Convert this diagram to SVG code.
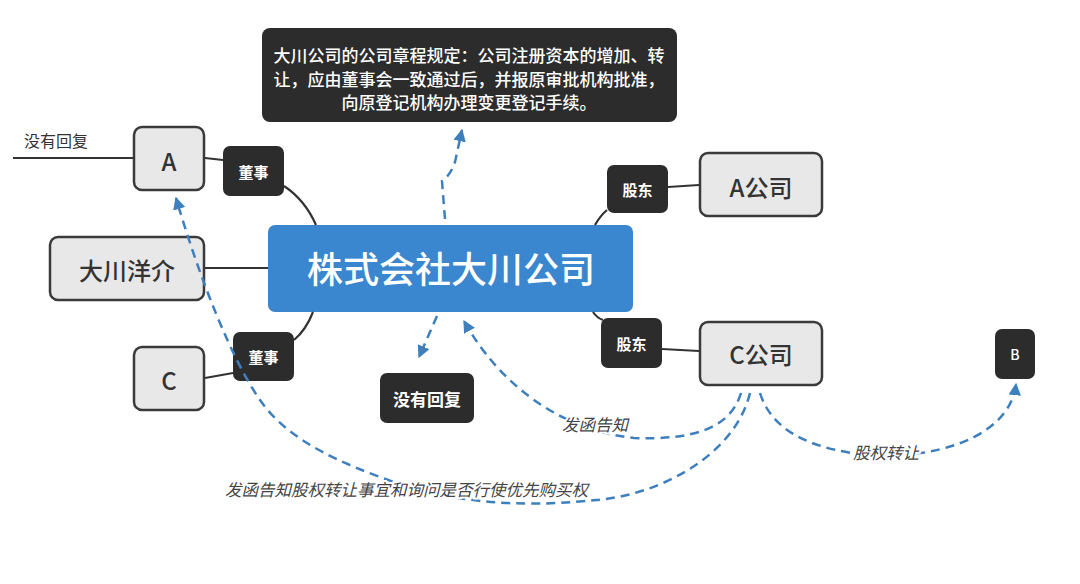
<svg xmlns="http://www.w3.org/2000/svg" width="1080" height="584" viewBox="0 0 1080 584">
<defs>
<style>
text{font-family:"Noto Sans CJK SC","Noto Sans",sans-serif;text-anchor:middle;dominant-baseline:central}
.light{fill:#e8e8e8;stroke:#3a3a3a;stroke-width:2.5}
.dark{fill:#2c2c2c}
.lt{fill:#333;font-size:24px;font-weight:500}
.dt{fill:#fff;font-size:15px;font-weight:600}
.solid{fill:none;stroke:#333;stroke-width:2.2}
.dash{fill:none;stroke:#3e7fbe;stroke-width:2.5;stroke-dasharray:9 6}
.lbl{fill:#444;font-size:16.5px;font-style:italic;text-anchor:start}
</style>
<marker id="ah" viewBox="0 0 10 10" refX="9" refY="5" markerWidth="5" markerHeight="5" orient="auto" markerUnits="strokeWidth">
<path d="M0,0 L10,5 L0,10 z" fill="#3e7fbe"/>
</marker>
</defs>
<rect width="1080" height="584" fill="#fff"/>

<g id="note">
<rect x="262" y="28" width="415" height="94" rx="8" class="dark"/>
<text x="469" y="54" fill="#fff" font-size="17" font-weight="500">大川公司的公司章程规定：公司注册资本的增加、转</text>
<text x="469" y="78" fill="#fff" font-size="17" font-weight="500">让，应由董事会一致通过后，并报原审批机构批准，</text>
<text x="469" y="101" fill="#fff" font-size="17" font-weight="500">向原登记机构办理变更登记手续。</text>
</g>

<g id="label-top-reply">
<text x="24" y="140" fill="#333" font-size="16" style="text-anchor:start">没有回复</text>
</g>

<g id="center">
<rect x="268" y="225" width="365" height="87" rx="7" fill="#3a86cf"/>
<text x="451" y="267" fill="#fff" font-size="36" font-weight="500">株式会社大川公司</text>
</g>

<g id="nodeA">
<rect x="134" y="127" width="70" height="63" rx="8" class="light"/>
<text x="169" y="160" class="lt" font-size="21">A</text>
</g>

<g id="dongshi1">
<rect x="223" y="146" width="61" height="50" rx="7" class="dark"/>
<text x="253.5" y="171" class="dt">董事</text>
</g>

<g id="okawa">
<rect x="50" y="237" width="154" height="63" rx="8" class="light"/>
<text x="127" y="269" class="lt" font-size="25">大川洋介</text>
</g>

<g id="nodeC">
<rect x="134" y="347" width="70" height="63" rx="8" class="light"/>
<text x="169" y="379" class="lt" font-size="21">C</text>
</g>

<g id="dongshi2">
<rect x="233" y="332" width="61" height="49" rx="7" class="dark"/>
<text x="263.5" y="356.5" class="dt">董事</text>
</g>

<g id="gudong1">
<rect x="607" y="165" width="61" height="48" rx="7" class="dark"/>
<text x="637.5" y="189" class="dt">股东</text>
</g>

<g id="companyA">
<rect x="700" y="153" width="122" height="63" rx="8" class="light"/>
<text x="761" y="186" class="lt">A公司</text>
</g>

<g id="gudong2">
<rect x="601" y="318" width="61" height="50" rx="7" class="dark"/>
<text x="631.5" y="343" class="dt">股东</text>
</g>

<g id="companyC">
<rect x="700" y="322" width="122" height="63" rx="8" class="light"/>
<text x="761" y="353" class="lt">C公司</text>
</g>

<g id="nodeB">
<rect x="995" y="329" width="40" height="50" rx="7" class="dark"/>
<text x="1015" y="354" fill="#fff" font-size="14" font-weight="500">B</text>
</g>

<g id="noreply">
<rect x="380" y="373" width="94" height="50" rx="7" class="dark"/>
<text x="427" y="398" fill="#fff" font-size="17" font-weight="600">没有回复</text>
</g>

<g id="connectors">
<line class="solid" x1="13" y1="158" x2="133" y2="158"/>
<path class="solid" d="M205,158 L223,160"/>
<path class="solid" d="M284,186 Q305,200 316,225"/>
<line class="solid" x1="205" y1="268" x2="268" y2="268"/>
<path class="solid" d="M205,378 L233,373"/>
<path class="solid" d="M313,312 Q306,330 294,340"/>
<path class="solid" d="M595,225 Q600,216 607,210"/>
<path class="solid" d="M668,187 L699,185"/>
<path class="solid" d="M593,312 Q597,318 603,320"/>
<path class="solid" d="M662,349 L699,351"/>

<path class="dash" marker-end="url(#ah)" d="M445,219 L442,181 Q450,176 455,162 L462,130"/>
<path class="dash" marker-end="url(#ah)" d="M437,316 L419,357"/>
<path class="dash" marker-end="url(#ah)" d="M741,393 C730,430 690,440 634,438 C560,430 500,385 464,321"/>
<path class="dash" marker-end="url(#ah)" d="M750,393 C735,455 660,495 596,500 C540,506 460,508 380,477 C320,455 282,432 260,400 C232,360 200,280 176,198"/>
<path class="dash" marker-end="url(#ah)" d="M760,393 C770,425 800,445 852,453 L921,453 C975,445 1012,420 1016,384"/>
</g>

<g id="labels">
<text class="lbl" x="562" y="424" stroke="#fff" stroke-width="4" paint-order="stroke">发函告知</text>
<text class="lbl" x="853" y="452" stroke="#fff" stroke-width="4" paint-order="stroke">股权转让</text>
<text class="lbl" x="225" y="489" stroke="#fff" stroke-width="4" paint-order="stroke">发函告知股权转让事宜和询问是否行使优先购买权</text>
</g>
</svg>
